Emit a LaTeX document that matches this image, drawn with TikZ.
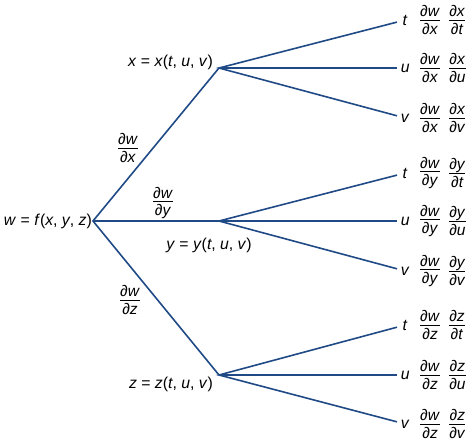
\documentclass[tikz,border=0pt]{standalone}
\usepackage{amsmath}
\usepackage{fontspec}
\setmainfont{Liberation Sans}
\usepackage{tikz}
\usetikzlibrary{positioning}
\definecolor{branchblue}{RGB}{31,74,134}
\newcommand{\pd}[2]{{\renewcommand{\arraystretch}{0}%
\begin{tabular}{@{}c@{}}\rule[-3pt]{0pt}{3pt}\textit{∂#1}\\\hline\rule{0pt}{14pt}\textit{∂#2}\end{tabular}}}

\begin{document}
\begin{tikzpicture}[x=1pt, y=-1pt, font=\fontsize{15.8}{19}\selectfont,
  branch/.style={draw=branchblue, line width=1.6pt},
  leaf/.style={anchor=west, minimum width=16pt, inner sep=0pt},
  ratio/.style={inner sep=1pt, font=\fontsize{15.5}{18}\selectfont}]
\useasboundingbox (0,0) rectangle (474,444);

\coordinate (O) at (93,221);
\coordinate (X) at (219,68);
\coordinate (Y) at (219,221);
\coordinate (Z) at (219,375);

\node[left=0pt of O, inner sep=1pt](fw) {\textit{w} = \textit{f}(\textit{x}, \textit{y}, \textit{z})};
\node[above left=-3pt and 5pt of X, inner sep=1pt](fx) {\textit{x} = \textit{x}(\textit{t}, \textit{u}, \textit{v})};
\node[below=16pt of Y, xshift=-10pt, inner sep=1pt](fy) {\textit{y} = \textit{y}(\textit{t}, \textit{u}, \textit{v})};
\node[below left=1pt and 5pt of Z, inner sep=1pt](fz) {\textit{z} = \textit{z}(\textit{t}, \textit{u}, \textit{v})};

\node[ratio] (dx) at (128,148) {\pd{w}{x}};
\node[ratio] (dy) at (163,203) {\pd{w}{y}};
\node[ratio] (dz) at (130,300) {\pd{w}{z}};

% leaves of x
\node[leaf] (xt) at (397,20) {\textit{t}};
\node[leaf] (xu) at (397,68) {\textit{u}};
\node[leaf] (xv) at (397,118) {\textit{v}};
\node[ratio, anchor=west] (xt1) at (419,20) {\pd{w}{x}};
\node[ratio, right=7pt of xt1] (xt2) {\pd{x}{t}};
\node[ratio, anchor=west] (xu1) at (419,68) {\pd{w}{x}};
\node[ratio, right=7pt of xu1] (xu2) {\pd{x}{u}};
\node[ratio, anchor=west] (xv1) at (419,118) {\pd{w}{x}};
\node[ratio, right=7pt of xv1] (xv2) {\pd{x}{v}};

% leaves of y
\node[leaf] (yt) at (397,173) {\textit{t}};
\node[leaf] (yu) at (397,221) {\textit{u}};
\node[leaf] (yv) at (397,271) {\textit{v}};
\node[ratio, anchor=west] (yt1) at (419,173) {\pd{w}{y}};
\node[ratio, right=7pt of yt1] (yt2) {\pd{y}{t}};
\node[ratio, anchor=west] (yu1) at (419,221) {\pd{w}{y}};
\node[ratio, right=7pt of yu1] (yu2) {\pd{y}{u}};
\node[ratio, anchor=west] (yv1) at (419,271) {\pd{w}{y}};
\node[ratio, right=7pt of yv1] (yv2) {\pd{y}{v}};

% leaves of z
\node[leaf] (zt) at (397,325) {\textit{t}};
\node[leaf] (zu) at (397,375) {\textit{u}};
\node[leaf] (zv) at (397,424) {\textit{v}};
\node[ratio, anchor=west] (zt1) at (419,325) {\pd{w}{z}};
\node[ratio, right=7pt of zt1] (zt2) {\pd{z}{t}};
\node[ratio, anchor=west] (zu1) at (419,375) {\pd{w}{z}};
\node[ratio, right=7pt of zu1] (zu2) {\pd{z}{u}};
\node[ratio, anchor=west] (zv1) at (419,424) {\pd{w}{z}};
\node[ratio, right=7pt of zv1] (zv2) {\pd{z}{v}};

\draw[branch] (X) -- (O) -- (Z);
\draw[branch] (O) -- (Y);
\draw[branch] (xt) -- (X) -- (xv);
\draw[branch] (X) -- (xu);
\draw[branch] (yt) -- (Y) -- (yv);
\draw[branch] (Y) -- (yu);
\draw[branch] (zt) -- (Z) -- (zv);
\draw[branch] (Z) -- (zu);
\end{tikzpicture}
\end{document}
